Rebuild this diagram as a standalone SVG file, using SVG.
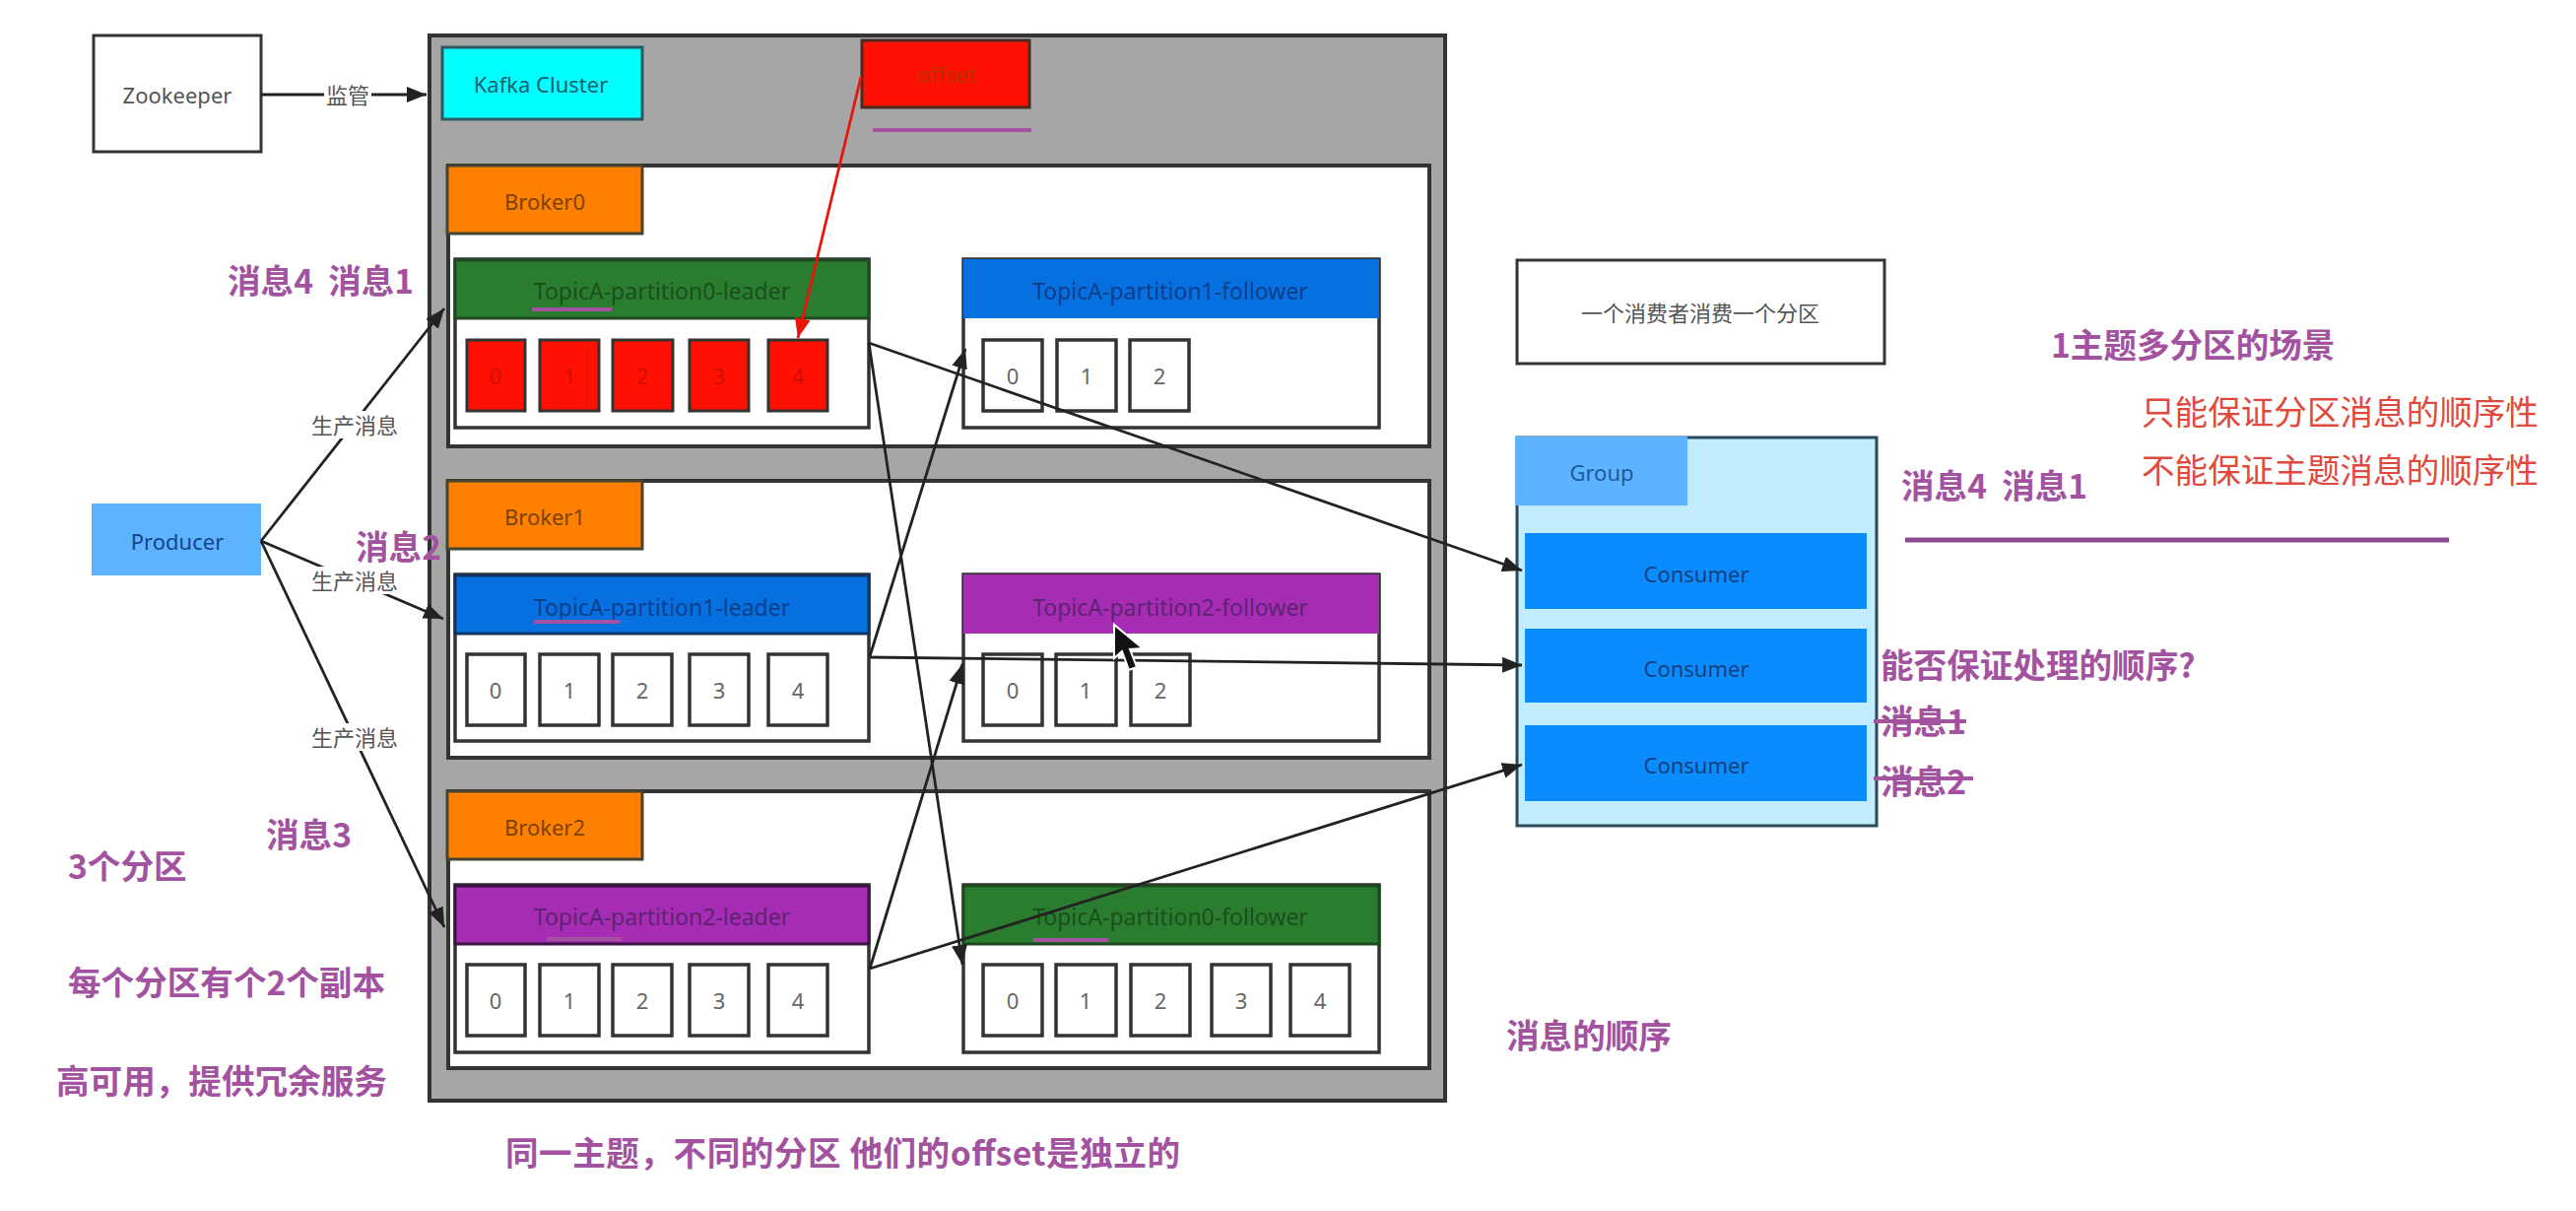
<svg xmlns="http://www.w3.org/2000/svg" width="2615" height="1229" viewBox="0 0 2615 1229">
<style>
text{font-family:"Noto Sans CJK SC","Noto Sans",sans-serif}
.n{font-family:"Noto Sans","Noto Sans CJK SC",sans-serif;font-size:22px;text-anchor:middle;dominant-baseline:central}
.t{font-size:23px}
.big{font-size:33.6px;font-weight:700;fill:#a2529f}
.red{font-size:33.6px;font-weight:400;fill:#e2483c}
.box{stroke:#333;stroke-width:3}
.item{fill:#fff;stroke:#333;stroke-width:3.5}
.ritem{fill:#ff1000;stroke:#333;stroke-width:3}
.num{fill:#666}
.rnum{fill:#cc1000}
.panel{fill:#fff;stroke:#333;stroke-width:4}
.orange{fill:#ff8000;stroke:#443;stroke-width:3}
.part{fill:#fff;stroke:#333;stroke-width:3.5}
.green{fill:#2a7d2e;stroke:#1f4a20;stroke-width:3}
.blue{fill:#0670e0}
.purple{fill:#a62cb4}
.tg{fill:#1a4f1e}
.tb{fill:#0b3f8c}
.tp{fill:#5e2372}
.ul{stroke:#a2529f;stroke-width:4;fill:none}
.c{fill:none;stroke:#222;stroke-width:2.8;marker-end:url(#a)}
.cons{fill:#0a8cff}
.ct{fill:#123f80}
.lab{fill:#555}
</style>
<defs>
<marker id="a" markerUnits="userSpaceOnUse" markerWidth="22" markerHeight="16" refX="20" refY="8" orient="auto"><path d="M0 0L20 8L0 16z" fill="#222"/></marker>
<marker id="r" markerUnits="userSpaceOnUse" markerWidth="22" markerHeight="16" refX="20" refY="8" orient="auto"><path d="M0 0L20 8L0 16z" fill="#e8150a"/></marker>
</defs>
<rect width="2615" height="1229" fill="#fff"/>

<g id="zookeeper"><rect class="box" x="95" y="36" width="170" height="118" fill="#fff"/><text class="n lab" x="180" y="96">Zookeeper</text></g>
<g id="cluster"><rect x="436" y="36" width="1031" height="1081" fill="#a6a6a6" stroke="#333" stroke-width="4"/></g>
<g id="kafka-cluster"><rect x="449" y="48" width="203" height="73" fill="#00ffff" stroke="#2a5a60" stroke-width="3"/><text class="n" x="549" y="85" fill="#17606e">Kafka Cluster</text></g>
<g id="offset"><rect x="875" y="41" width="170" height="68" fill="#ff1000" stroke="#4a2a20" stroke-width="3"/><text class="n" x="961" y="75" fill="#b53000">offset</text></g>

<g id="broker0">
<rect class="panel" x="455" y="168" width="996" height="285"/>
<rect class="orange" x="454" y="168" width="198" height="69"/><text class="n" x="553" y="204" fill="#7a4200">Broker0</text>
</g>
<g id="broker1">
<rect class="panel" x="455" y="488" width="996" height="281"/>
<rect class="orange" x="454" y="488" width="198" height="69"/><text class="n" x="553" y="524" fill="#7a4200">Broker1</text>
</g>
<g id="broker2">
<rect class="panel" x="455" y="803" width="996" height="281"/>
<rect class="orange" x="454" y="803" width="198" height="69"/><text class="n" x="553" y="839" fill="#7a4200">Broker2</text>
</g>

<g id="p0-leader">
<rect class="part" x="462" y="263" width="420" height="171"/>
<rect class="green" x="462" y="264" width="420" height="59"/>
<text class="n t tg" x="672" y="295">TopicA-partition0-leader</text>
<path class="ul" d="M540 314H621"/>
<rect class="ritem" x="474" y="345" width="59" height="72"/><text class="n rnum" x="503" y="381">0</text>
<rect class="ritem" x="548" y="345" width="60" height="72"/><text class="n rnum" x="578" y="381">1</text>
<rect class="ritem" x="622" y="345" width="61" height="72"/><text class="n rnum" x="652" y="381">2</text>
<rect class="ritem" x="700" y="345" width="60" height="72"/><text class="n rnum" x="730" y="381">3</text>
<rect class="ritem" x="780" y="345" width="60" height="72"/><text class="n rnum" x="810" y="381">4</text>
</g>
<g id="p1-follower">
<rect class="part" x="978" y="263" width="422" height="171"/>
<rect class="blue" x="978" y="263" width="422" height="60"/>
<text class="n t tb" x="1188" y="295">TopicA-partition1-follower</text>
<rect class="item" x="998" y="345" width="60" height="72"/><text class="n num" x="1028" y="381">0</text>
<rect class="item" x="1073" y="345" width="60" height="72"/><text class="n num" x="1103" y="381">1</text>
<rect class="item" x="1147" y="345" width="60" height="72"/><text class="n num" x="1177" y="381">2</text>
</g>
<g id="p1-leader">
<rect class="part" x="462" y="583" width="420" height="169"/>
<rect class="blue" x="462" y="584" width="420" height="59" stroke="#0e3560" stroke-width="3"/>
<text class="n t tb" x="672" y="616">TopicA-partition1-leader</text>
<path class="ul" d="M542 631H630"/>
<rect class="item" x="474" y="664" width="59" height="72"/><text class="n num" x="503" y="700">0</text>
<rect class="item" x="548" y="664" width="60" height="72"/><text class="n num" x="578" y="700">1</text>
<rect class="item" x="622" y="664" width="60" height="72"/><text class="n num" x="652" y="700">2</text>
<rect class="item" x="700" y="664" width="60" height="72"/><text class="n num" x="730" y="700">3</text>
<rect class="item" x="780" y="664" width="60" height="72"/><text class="n num" x="810" y="700">4</text>
</g>
<g id="p2-follower">
<rect class="part" x="978" y="583" width="422" height="169"/>
<rect class="purple" x="978" y="583" width="422" height="60"/>
<text class="n t tp" x="1188" y="616">TopicA-partition2-follower</text>
<rect class="item" x="998" y="664" width="60" height="72"/><text class="n num" x="1028" y="700">0</text>
<rect class="item" x="1072" y="664" width="61" height="72"/><text class="n num" x="1102" y="700">1</text>
<rect class="item" x="1148" y="664" width="60" height="72"/><text class="n num" x="1178" y="700">2</text>
</g>
<g id="p2-leader">
<rect class="part" x="462" y="898" width="420" height="170"/>
<rect class="purple" x="462" y="899" width="420" height="59" stroke="#3a1440" stroke-width="3"/>
<text class="n t tp" x="672" y="930">TopicA-partition2-leader</text>
<path class="ul" d="M555 953H631" stroke-width="3"/>
<rect class="item" x="474" y="979" width="59" height="72"/><text class="n num" x="503" y="1015">0</text>
<rect class="item" x="548" y="979" width="60" height="72"/><text class="n num" x="578" y="1015">1</text>
<rect class="item" x="622" y="979" width="60" height="72"/><text class="n num" x="652" y="1015">2</text>
<rect class="item" x="700" y="979" width="60" height="72"/><text class="n num" x="730" y="1015">3</text>
<rect class="item" x="780" y="979" width="60" height="72"/><text class="n num" x="810" y="1015">4</text>
</g>
<g id="p0-follower">
<rect class="part" x="978" y="898" width="422" height="170"/>
<rect class="green" x="978" y="899" width="422" height="59"/>
<text class="n t tg" x="1188" y="930">TopicA-partition0-follower</text>
<path class="ul" d="M1049 954H1125"/>
<rect class="item" x="998" y="979" width="60" height="72"/><text class="n num" x="1028" y="1015">0</text>
<rect class="item" x="1072" y="979" width="61" height="72"/><text class="n num" x="1102" y="1015">1</text>
<rect class="item" x="1148" y="979" width="60" height="72"/><text class="n num" x="1178" y="1015">2</text>
<rect class="item" x="1230" y="979" width="60" height="72"/><text class="n num" x="1260" y="1015">3</text>
<rect class="item" x="1310" y="979" width="60" height="72"/><text class="n num" x="1340" y="1015">4</text>
</g>

<g id="producer"><rect x="93" y="511" width="172" height="73" fill="#5eb3ff"/><text class="n" x="180" y="549" fill="#12458c">Producer</text></g>
<g id="note"><rect class="box" x="1540" y="264" width="373" height="105" fill="#fff"/><text class="n lab" x="1726" y="317">一个消费者消费一个分区</text></g>
<g id="group">
<rect x="1540" y="444" width="365" height="394" fill="#c2ecff" stroke="#2a4a5a" stroke-width="3"/>
<rect x="1538" y="443" width="175" height="70" fill="#5cb3ff"/>
<text class="n" x="1626" y="479" fill="#1f5a9a">Group</text>
<rect class="cons" x="1548" y="541" width="347" height="77"/><text class="n ct" x="1722" y="582">Consumer</text>
<rect class="cons" x="1548" y="638" width="347" height="75"/><text class="n ct" x="1722" y="678">Consumer</text>
<rect class="cons" x="1548" y="736" width="347" height="77"/><text class="n ct" x="1722" y="776">Consumer</text>
</g>

<g id="connectors">
<path class="c" d="M265 96H433"/>
<path class="c" d="M265 549L451 313"/>
<path class="c" d="M265 549L450 628"/>
<path class="c" d="M265 549L451 941"/>
<path class="c" d="M882 348L977 979"/>
<path class="c" d="M882 348L1545 579"/>
<path class="c" d="M883 666L980 354"/>
<path class="c" d="M883 667L1545 675"/>
<path class="c" d="M883 983L977 674"/>
<path class="c" d="M883 983L1545 776"/>
<path d="M874 78L810 343" fill="none" stroke="#e8150a" stroke-width="2.8" marker-end="url(#r)"/>
<rect x="329" y="82" width="48" height="28" fill="#fff"/>
<text class="n lab" x="353" y="96">监管</text>
<rect x="314" y="417" width="92" height="28" fill="#fff"/>
<text class="n lab" x="360" y="431">生产消息</text>
<rect x="314" y="575" width="92" height="28" fill="#fff"/>
<text class="n lab" x="360" y="589">生产消息</text>
<rect x="314" y="734" width="92" height="28" fill="#fff"/>
<text class="n lab" x="360" y="748">生产消息</text>
</g>

<polygon id="cursor" points="1131,634 1131,668 1139,661 1146,680 1154,677 1147,659 1160,658" fill="#111" stroke="#fff" stroke-width="2"/>

<g id="notes">
<text class="big" x="231" y="298" xml:space="preserve">消息4  消息1</text>
<text class="big" x="361" y="568">消息2</text>
<text class="big" x="270" y="860">消息3</text>
<text class="big" x="69" y="892">3个分区</text>
<text class="big" x="69" y="1010">每个分区有个2个副本</text>
<text class="big" x="57" y="1110">高可用，提供冗余服务</text>
<text class="big" x="513" y="1183" textLength="685" lengthAdjust="spacing">同一主题，不同的分区 他们的offset是独立的</text>
<text class="big" x="1529" y="1064">消息的顺序</text>
<text class="big" x="2082" y="363">1主题多分区的场景</text>
<text class="red" x="2174" y="431">只能保证分区消息的顺序性</text>
<text class="red" x="2174" y="490">不能保证主题消息的顺序性</text>
<text class="big" x="1930" y="506" xml:space="preserve">消息4  消息1</text>
<path d="M1934 548H2486" stroke="#8e4a93" stroke-width="5" fill="none"/>
<text class="big" x="1909" y="688">能否保证处理的顺序?</text>
<text class="big" x="1909" y="745">消息1</text>
<path d="M1902 732H1996" class="ul"/>
<text class="big" x="1909" y="806">消息2</text>
<path d="M1902 790H2003" class="ul"/>
<path class="ul" d="M886 132H1047" stroke-width="5"/>
</g>
</svg>
